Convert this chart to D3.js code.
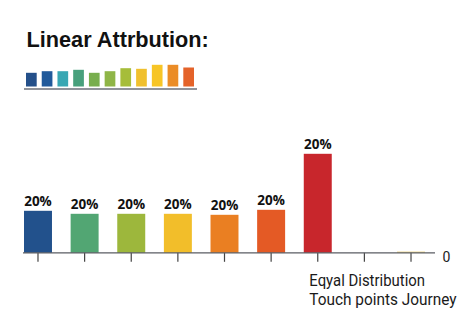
<!DOCTYPE html>
<html>
<head>
<meta charset="utf-8">
<script src="https://cdn.jsdelivr.net/npm/d3@7"></script>
<style>
  html, body { margin: 0; padding: 0; background: #fff; }
  svg { display: block; }
</style>
</head>
<body>
<svg id="chart" width="474" height="332"></svg>
<script>
// ---- data ----
const titleText = "Linear Attrbution:";
const miniValues = [13.7, 15.3, 15.3, 16.7, 13.7, 15.3, 18.3, 17.7, 21.7, 21.7, 19];
const miniColors = ["#24508a", "#215a9b", "#38a7b3", "#48a07c", "#78ae4e", "#8fb547",
                    "#a6bd3a", "#f0c02e", "#f7c526", "#eb8c26", "#e4632a"];
const categories = ["c1", "c2", "c3", "c4", "c5", "c6", "c7", "c8", "c9"];
const barValues = [42, 39, 39, 39, 38, 43, 99, 0, 1.2];
const barLabels = ["20%", "20%", "20%", "20%", "20%", "20%", "20%", "", ""];
const barColors = ["#22518c", "#52a673", "#9db73c", "#f2be2a", "#ea7f22", "#e45a25",
                   "#c8262c", "#ffffff", "#ecd07a"];
const zeroLabel = "0";
const captionLines = ["Eqyal Distribution", "Touch points Journey"];

// ---- drawing ----
const svg = d3.select("#chart");

// Title
svg.append("text")
  .attr("x", 26.5).attr("y", 47.3)
  .attr("font-family", "Liberation Sans, Arial, sans-serif")
  .attr("font-weight", "bold")
  .attr("font-size", 21.7)
  .attr("fill", "#111")
  .text(titleText);

// Mini bar legend
const mx = d3.scaleBand().domain(d3.range(miniValues.length))
  .range([26, 194]).paddingInner(0.32).paddingOuter(0);
const my = d3.scaleLinear().domain([0, 20]).range([86.5, 66.5]);
svg.append("g").selectAll("rect").data(miniValues).join("rect")
  .attr("x", (d, i) => mx(i))
  .attr("width", mx.bandwidth())
  .attr("y", d => my(d))
  .attr("height", d => my(0) - my(d))
  .attr("fill", (d, i) => miniColors[i]);
svg.append("line")
  .attr("x1", 24).attr("x2", 197).attr("y1", 89).attr("y2", 89)
  .attr("stroke", "#6b6f78").attr("stroke-width", 1.6);

// Main chart
const baseY = 252.8;
const x = d3.scaleBand().domain(categories).range([24, 425]).paddingInner(0.4).paddingOuter(0);
const y = d3.scaleLinear().domain([0, 100]).range([baseY, baseY - 100]);

svg.append("g").selectAll("rect").data(barValues).join("rect")
  .attr("x", (d, i) => x(categories[i]))
  .attr("width", x.bandwidth())
  .attr("y", d => y(d))
  .attr("height", d => y(0) - y(d))
  .attr("fill", (d, i) => barColors[i]);

svg.append("g").selectAll("text").data(barValues).join("text")
  .attr("x", (d, i) => x(categories[i]) + x.bandwidth() / 2)
  .attr("y", d => y(d) - 5)
  .attr("text-anchor", "middle")
  .attr("font-family", "Open Sans, sans-serif")
  .attr("font-weight", "bold")
  .attr("font-size", 13.5)
  .attr("fill", "#111")
  .text((d, i) => barLabels[i]);

// Axis
const axis = svg.append("g")
  .attr("transform", `translate(0,${baseY})`)
  .call(d3.axisBottom(x).tickSize(9).tickFormat(""));
axis.select(".domain").remove();
axis.selectAll(".tick line").attr("stroke", "#444").attr("stroke-width", 1.2);
svg.append("line")
  .attr("x1", 23).attr("x2", 435).attr("y1", baseY).attr("y2", baseY)
  .attr("stroke", "#5a5d63").attr("stroke-width", 1.3);

svg.append("text")
  .attr("x", 442.5).attr("y", 261.5)
  .attr("font-family", "Roboto, sans-serif")
  .attr("font-size", 14)
  .attr("fill", "#222")
  .text(zeroLabel);

// Caption (condensed horizontally to match the reference's narrow face)
const capWidths = [115.7, 147.3];
svg.append("g").selectAll("text").data(captionLines).join("text")
  .attr("x", 0)
  .attr("y", 0)
  .attr("font-family", "Roboto, sans-serif")
  .attr("font-size", 16.2)
  .attr("fill", "#1a1a1a")
  .text(d => d)
  .each(function (d, i) {
    const w = this.getComputedTextLength();
    const s = capWidths[i] / w;
    d3.select(this).attr("transform", `translate(309.3,${286 + i * 19}) scale(${s},1)`);
  });
</script>
</body>
</html>
